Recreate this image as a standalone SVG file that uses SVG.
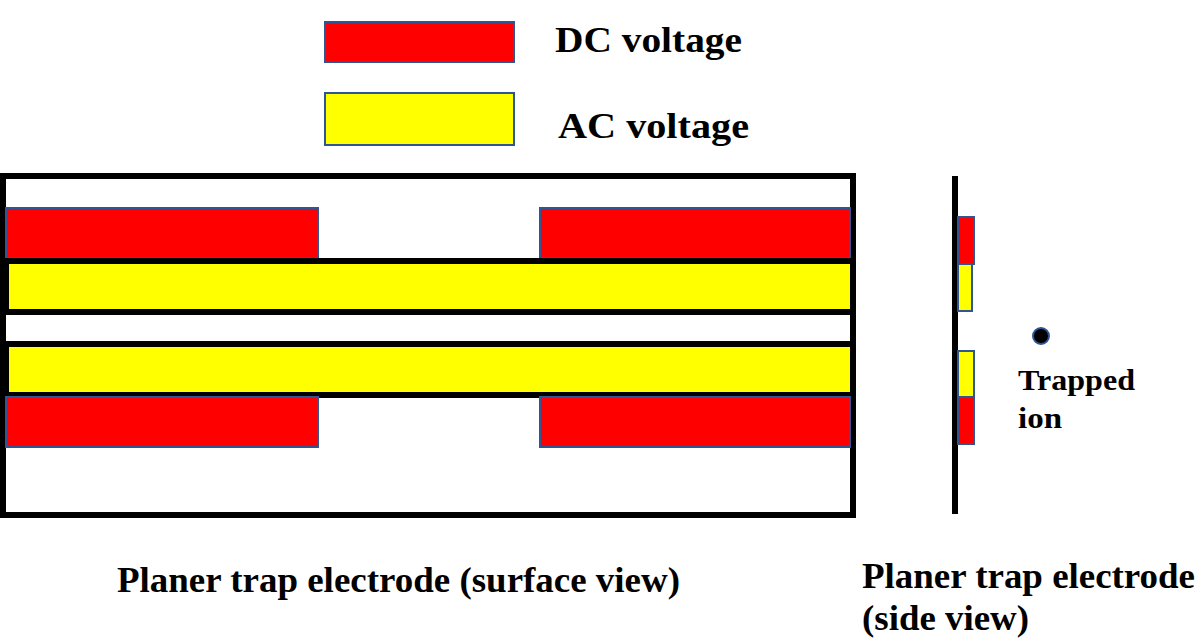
<svg xmlns="http://www.w3.org/2000/svg" width="1200" height="644" viewBox="0 0 1200 644">
<style>
.dc{fill:#ff0000;stroke:#2f5597;stroke-width:2}
.ac{fill:#ffff00;stroke:#2f5597;stroke-width:2}
.acb{fill:#ffff00;stroke:#000;stroke-width:6}
.t{font-family:"Liberation Serif",serif;font-weight:bold;fill:#000}
</style>
<rect width="1200" height="644" fill="#fff"/>
<g id="legend">
<rect class="dc" x="325" y="22" width="189" height="40"/>
<rect class="ac" x="325" y="93" width="189" height="52"/>
<text class="t" x="555" y="52" font-size="36" textLength="187" lengthAdjust="spacingAndGlyphs">DC voltage</text>
<text class="t" x="558" y="138" font-size="36" textLength="191" lengthAdjust="spacingAndGlyphs">AC voltage</text>
</g>
<g id="surface">
<rect x="3" y="176" width="850" height="339" fill="#fff" stroke="#000" stroke-width="6"/>
<rect class="dc" x="6" y="208" width="312" height="50"/>
<rect class="dc" x="540" y="208" width="310" height="50"/>
<rect class="acb" x="6" y="261" width="847" height="51"/>
<rect class="acb" x="6" y="344" width="847" height="51"/>
<rect class="dc" x="6" y="397" width="312" height="50"/>
<rect class="dc" x="540" y="397" width="310" height="50"/>
<text class="t" x="117" y="592" font-size="36" textLength="563" lengthAdjust="spacingAndGlyphs">Planer trap electrode (surface view)</text>
</g>
<g id="side">
<line x1="955" y1="176" x2="955" y2="514" stroke="#000" stroke-width="6"/>
<rect class="dc" x="958" y="217" width="16" height="47"/>
<rect class="ac" x="958" y="264" width="14" height="47"/>
<rect class="ac" x="958" y="351" width="16" height="46"/>
<rect class="dc" x="958" y="397" width="16" height="47"/>
<text class="t" x="862" y="588" font-size="36" textLength="333" lengthAdjust="spacingAndGlyphs">Planer trap electrode</text>
<text class="t" x="862" y="630" font-size="36" textLength="167" lengthAdjust="spacingAndGlyphs">(side view)</text>
</g>
<g id="ion">
<circle cx="1041" cy="336" r="8" fill="#000" stroke="#2f5597" stroke-width="2"/>
<text class="t" x="1018" y="390" font-size="30" textLength="117" lengthAdjust="spacingAndGlyphs">Trapped</text>
<text class="t" x="1018" y="428" font-size="30" textLength="44" lengthAdjust="spacingAndGlyphs">ion</text>
</g>
</svg>
